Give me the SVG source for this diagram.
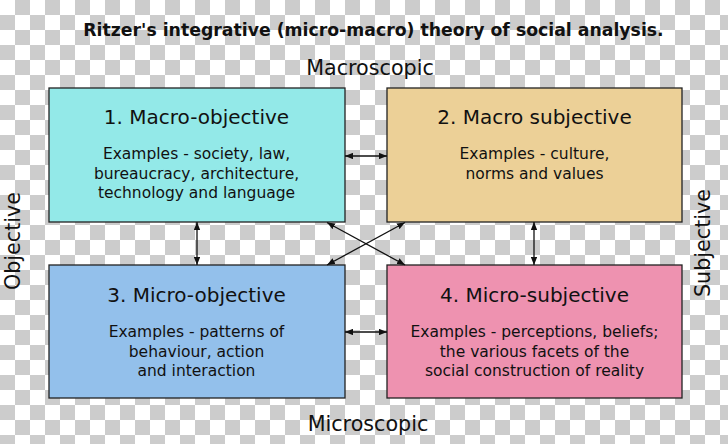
<svg xmlns="http://www.w3.org/2000/svg" width="728" height="444" viewBox="0 0 728 444">
  <style>
    text { font-family: "DejaVu Sans", "Liberation Sans", sans-serif; fill: #111; }
    .title { font-weight: bold; font-size: 17.3px; text-anchor: middle; }
    .axis { font-size: 20.7px; text-anchor: middle; }
    .head { font-size: 20px; text-anchor: middle; }
    .ex { font-size: 15.5px; text-anchor: middle; }
    .box { stroke: #222; stroke-width: 1.3; }
    .conn line { stroke: #111; stroke-width: 1.3; marker-start: url(#ah); marker-end: url(#ah); }
  </style>
  <defs>
    <pattern id="chk" width="30" height="30" patternUnits="userSpaceOnUse">
      <rect width="30" height="30" fill="#ffffff"/>
      <rect x="15" y="0" width="15" height="15" fill="#cccccc"/>
      <rect x="0" y="15" width="15" height="15" fill="#cccccc"/>
    </pattern>
    <marker id="ah" viewBox="0 0 10 8" refX="10" refY="4" markerWidth="8" markerHeight="6.4" markerUnits="userSpaceOnUse" orient="auto-start-reverse">
      <path d="M0,0 L10,4 L0,8 z" fill="#111"/>
    </marker>
  </defs>

  <rect width="728" height="444" fill="url(#chk)"/>

  <text class="title" x="373.5" y="36">Ritzer's integrative (micro-macro) theory of social analysis.</text>
  <text class="axis" x="370" y="75">Macroscopic</text>
  <text class="axis" x="368" y="431">Microscopic</text>
  <text class="axis" transform="translate(20,241) rotate(-90)">Objective</text>
  <text class="axis" transform="translate(710,243) rotate(-90)">Subjective</text>

  <g id="node1">
    <rect class="box" x="49" y="88" width="296" height="134" fill="#93e9e8"/>
    <text class="head" x="196.5" y="124">1. Macro-objective</text>
    <text class="ex" x="196.5" y="159">Examples - society, law,</text>
    <text class="ex" x="196.5" y="178.5">bureaucracy, architecture,</text>
    <text class="ex" x="196.5" y="198">technology and language</text>
  </g>

  <g id="node2">
    <rect class="box" x="387" y="88" width="295" height="134" fill="#ecd097"/>
    <text class="head" x="534.5" y="124">2. Macro subjective</text>
    <text class="ex" x="534.5" y="159">Examples - culture,</text>
    <text class="ex" x="534.5" y="178.5">norms and values</text>
  </g>

  <g id="node3">
    <rect class="box" x="49" y="265" width="296" height="133" fill="#93c0eb"/>
    <text class="head" x="196.5" y="302">3. Micro-objective</text>
    <text class="ex" x="196.5" y="337">Examples - patterns of</text>
    <text class="ex" x="196.5" y="356.5">behaviour, action</text>
    <text class="ex" x="196.5" y="376">and interaction</text>
  </g>

  <g id="node4">
    <rect class="box" x="387" y="265" width="295" height="133" fill="#ee92b0"/>
    <text class="head" x="534.5" y="302">4. Micro-subjective</text>
    <text class="ex" x="534.5" y="337">Examples - perceptions, beliefs;</text>
    <text class="ex" x="534.5" y="356.5">the various facets of the</text>
    <text class="ex" x="534.5" y="376">social construction of reality</text>
  </g>

  <g id="connectors" class="conn">
    <line x1="345" y1="156" x2="387" y2="156"/>
    <line x1="345" y1="332" x2="387" y2="332"/>
    <line x1="197" y1="222" x2="197" y2="265"/>
    <line x1="534" y1="222" x2="534" y2="265"/>
    <line x1="327" y1="222.5" x2="405" y2="265"/>
    <line x1="405" y1="222.5" x2="327" y2="265"/>
  </g>
</svg>
